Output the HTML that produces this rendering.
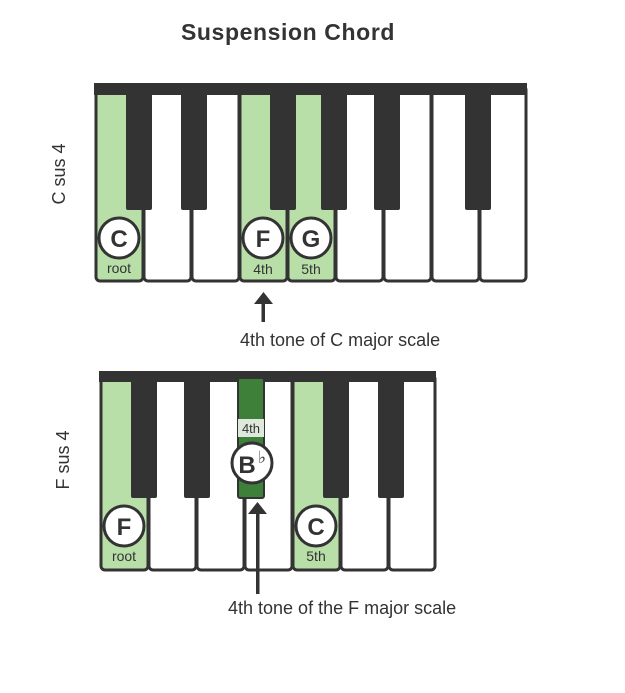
<!DOCTYPE html>
<html><head><meta charset="utf-8"><style>
html,body{margin:0;padding:0;background:#fff;}
svg{display:block;font-family:"Liberation Sans",sans-serif;}
</style></head><body>
<svg width="625" height="693" viewBox="0 0 625 693" xmlns="http://www.w3.org/2000/svg">
<rect width="625" height="693" fill="#fff"/>
<text x="288" y="40" text-anchor="middle" font-size="23" font-weight="bold" letter-spacing="0.6" fill="#333">Suspension Chord</text>

<!-- top keyboard -->
<g stroke="#333" stroke-width="3">
<rect x="96" y="86" width="47" height="195" rx="4" fill="#b9dfa9"/>
<rect x="144" y="86" width="47" height="195" rx="4" fill="#fff"/>
<rect x="192" y="86" width="47" height="195" rx="4" fill="#fff"/>
<rect x="240" y="86" width="47" height="195" rx="4" fill="#b9dfa9"/>
<rect x="288" y="86" width="47" height="195" rx="4" fill="#b9dfa9"/>
<rect x="336" y="86" width="47" height="195" rx="4" fill="#fff"/>
<rect x="384" y="86" width="47" height="195" rx="4" fill="#fff"/>
<rect x="432" y="86" width="47" height="195" rx="4" fill="#fff"/>
<rect x="480" y="86" width="46" height="195" rx="4" fill="#fff"/>
</g>
<rect x="94" y="83" width="433" height="12" fill="#333"/>
<g fill="#333">
<rect x="126" y="90" width="26" height="120" rx="2"/>
<rect x="181" y="90" width="26" height="120" rx="2"/>
<rect x="270" y="90" width="26" height="120" rx="2"/>
<rect x="321" y="90" width="26" height="120" rx="2"/>
<rect x="374" y="90" width="26" height="120" rx="2"/>
<rect x="465" y="90" width="26" height="120" rx="2"/>
</g>
<g stroke="#333" stroke-width="3" fill="#fff">
<circle cx="119" cy="238" r="20"/><circle cx="263" cy="238" r="20"/><circle cx="311" cy="238" r="20"/>
</g>
<g font-size="24" font-weight="bold" fill="#333" text-anchor="middle">
<text x="119" y="247">C</text><text x="263" y="247">F</text><text x="311" y="247">G</text>
</g>
<g font-size="14" fill="#333" text-anchor="middle">
<text x="119" y="273">root</text><text x="263" y="274">4th</text><text x="311" y="274">5th</text>
</g>
<rect x="261.5" y="300" width="3.5" height="22" fill="#333"/>
<polygon points="254,304 273,304 263.5,292" fill="#333"/>
<text x="240" y="346" font-size="18" fill="#333">4th tone of C major scale</text>
<text transform="translate(65,174) rotate(-90)" text-anchor="middle" font-size="18" fill="#333">C sus 4</text>

<!-- bottom keyboard -->
<g stroke="#333" stroke-width="3">
<rect x="101" y="375" width="47" height="195" rx="4" fill="#b9dfa9"/>
<rect x="149" y="375" width="47" height="195" rx="4" fill="#fff"/>
<rect x="197" y="375" width="47" height="195" rx="4" fill="#fff"/>
<rect x="245" y="375" width="47" height="195" rx="4" fill="#fff"/>
<rect x="293" y="375" width="47" height="195" rx="4" fill="#b9dfa9"/>
<rect x="341" y="375" width="47" height="195" rx="4" fill="#fff"/>
<rect x="389" y="375" width="46" height="195" rx="4" fill="#fff"/>
</g>
<rect x="99" y="371" width="337" height="11" fill="#333"/>
<g fill="#333">
<rect x="131" y="378" width="26" height="120" rx="2"/>
<rect x="184" y="378" width="26" height="120" rx="2"/>
<rect x="323" y="378" width="26" height="120" rx="2"/>
<rect x="378" y="378" width="26" height="120" rx="2"/>
</g>
<rect x="238" y="378" width="26" height="120" rx="2" fill="#3e7f3a" stroke="#333" stroke-width="2"/>
<rect x="238" y="419" width="26" height="18" fill="#dfe8dc"/>
<text x="251" y="433" font-size="13" fill="#333" text-anchor="middle">4th</text>
<g stroke="#333" stroke-width="3" fill="#fff">
<circle cx="252" cy="463" r="20"/>
<circle cx="124" cy="526" r="20"/><circle cx="316" cy="526" r="20"/>
</g>
<g font-size="24" font-weight="bold" fill="#333" text-anchor="middle">
<text x="247" y="473">B</text><text x="124" y="535">F</text><text x="316" y="535">C</text>
</g>
<text x="258" y="463" font-size="17" fill="#333">♭</text>
<g font-size="14" fill="#333" text-anchor="middle">
<text x="124" y="561">root</text><text x="316" y="561">5th</text>
</g>
<rect x="256" y="512" width="3.5" height="82" fill="#333"/>
<polygon points="248,514 267,514 257.5,502" fill="#333"/>
<text x="228" y="614" font-size="18" fill="#333">4th tone of the F major scale</text>
<text transform="translate(69,460) rotate(-90)" text-anchor="middle" font-size="18" fill="#333">F sus 4</text>
</svg>
</body></html>
